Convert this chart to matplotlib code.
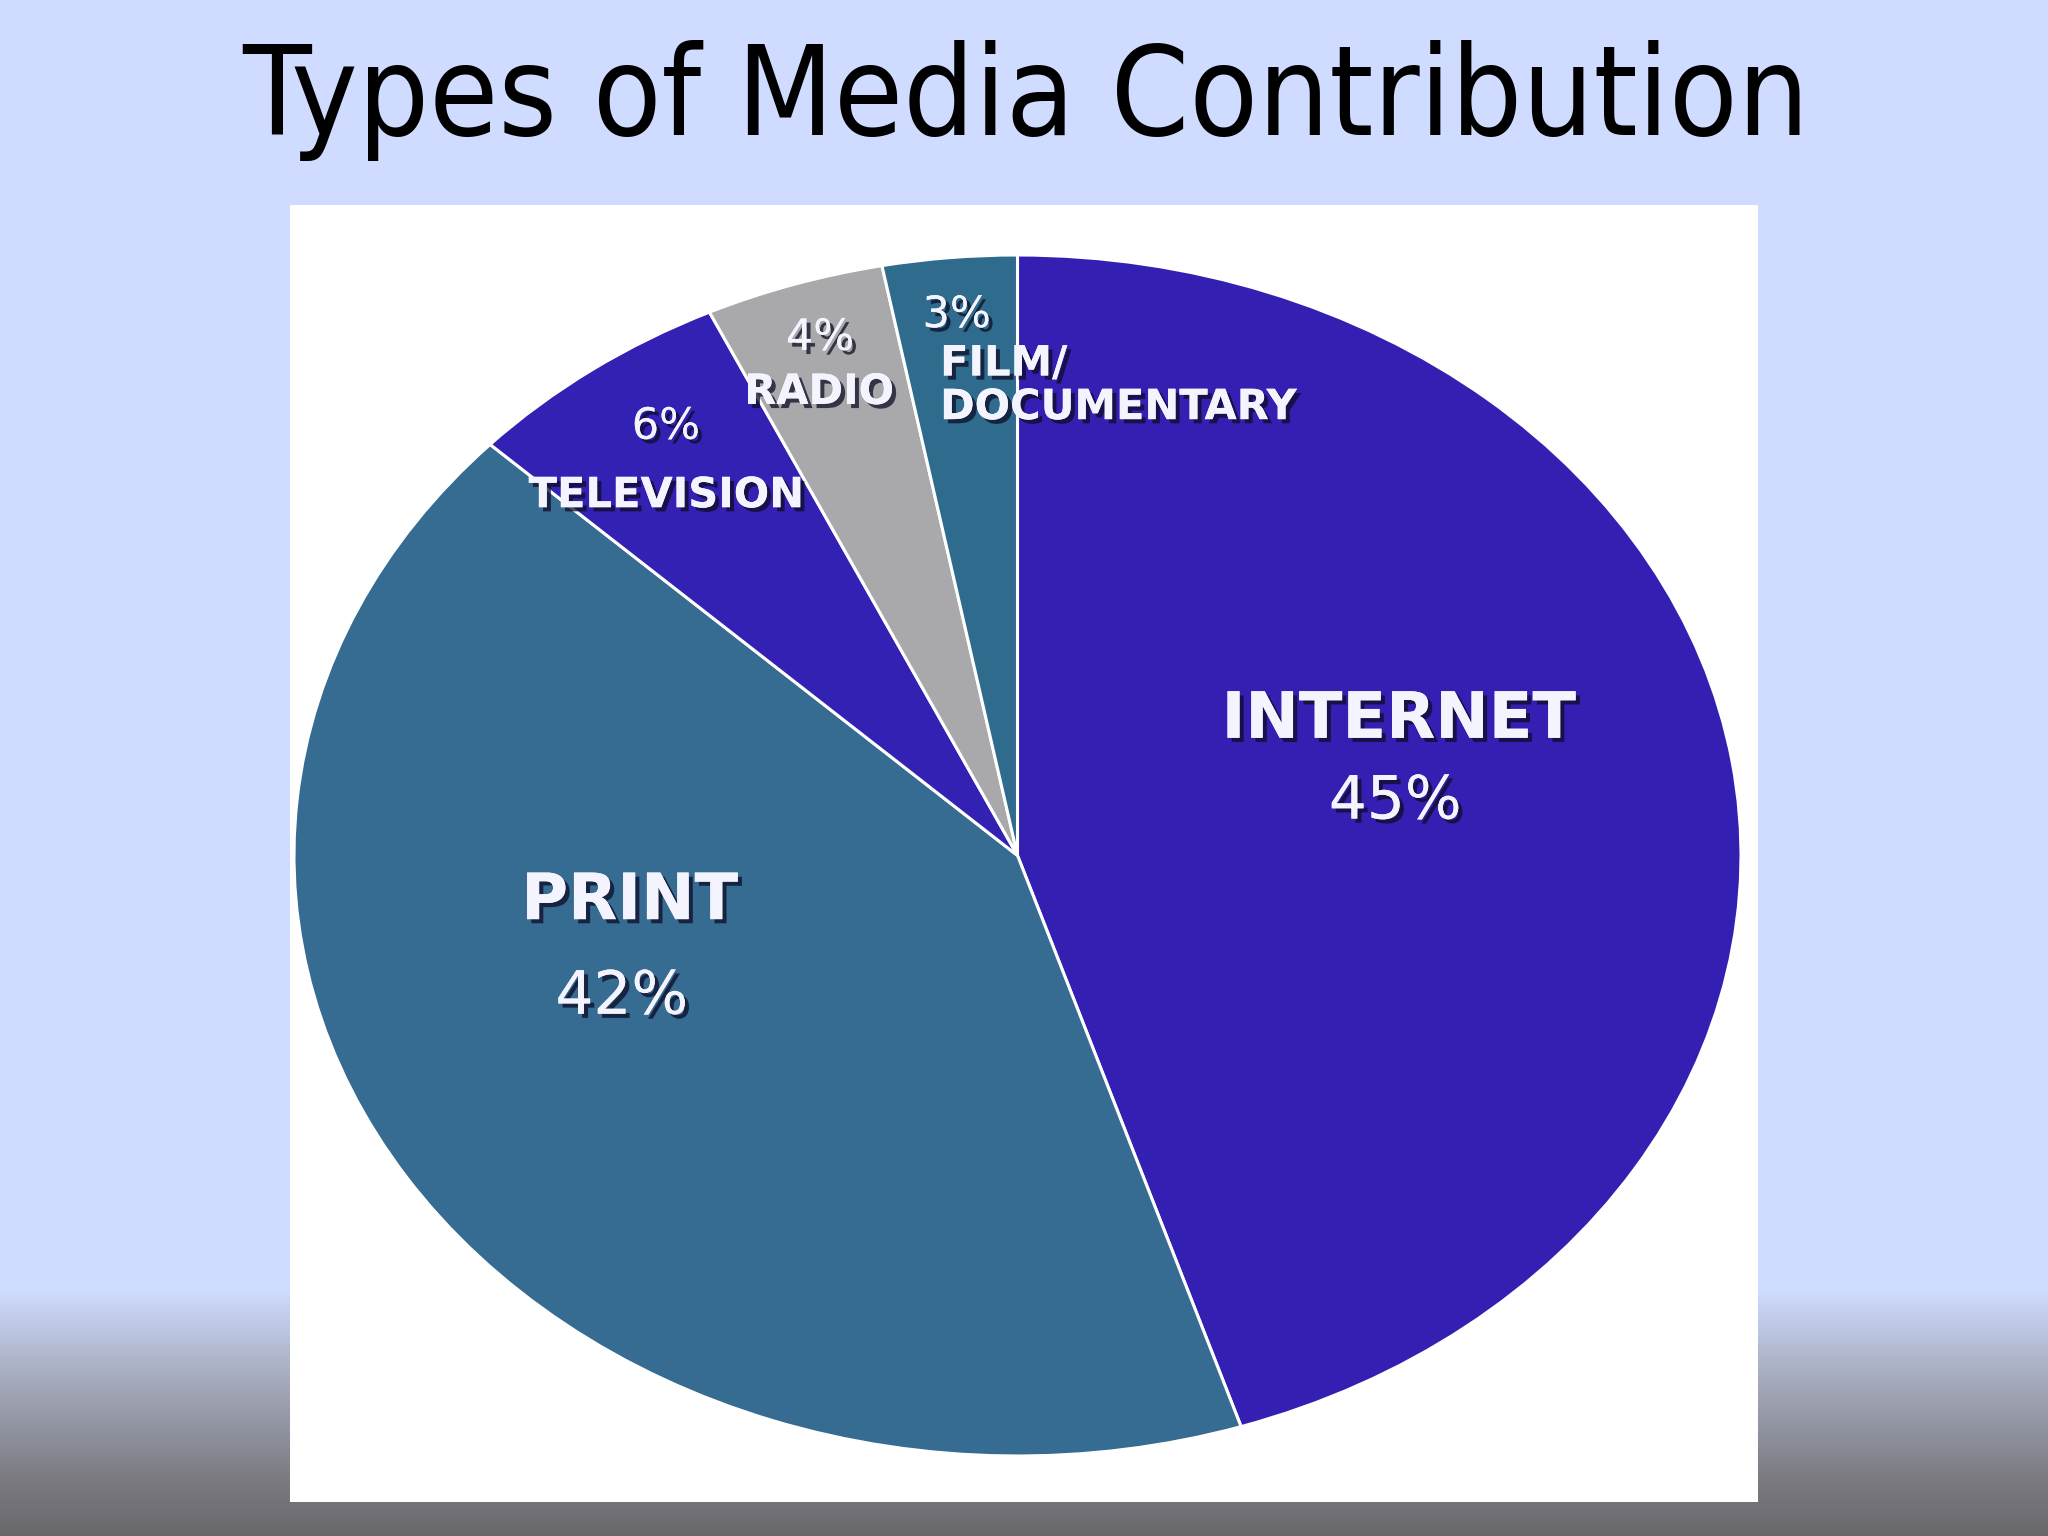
import numpy as np
import matplotlib
matplotlib.use("Agg")
import matplotlib.pyplot as plt
import matplotlib.patheffects as pe
from matplotlib.patches import Rectangle

# ---- data ----
categories = ["INTERNET", "PRINT", "TELEVISION", "RADIO", "FILM/\nDOCUMENTARY"]
values = [45, 42, 6, 4, 3]
colors = ["#3320B2", "#366B92", "#3321B3", "#A9A9AB", "#2E6B8C"]
title = "Types of Media Contribution"

W, H = 2048, 1536
fig = plt.figure(figsize=(W / 100, H / 100), dpi=100)

# ---- slide background (light blue with grey gradient at bottom) ----
bg = fig.add_axes([0, 0, 1, 1], zorder=-10)
rows = np.arange(H)
stops_y = [0, 1290, 1380, 1480, 1536]
stops_c = np.array([[207, 220, 255], [207, 220, 255], [165, 170, 188], [122, 122, 128], [104, 104, 108]]) / 255
grad = np.stack([np.interp(rows, stops_y, stops_c[:, k]) for k in range(3)], axis=1)
img = np.repeat(grad[:, None, :], 4, axis=1)
bg.imshow(img, aspect="auto", extent=[0, 1, 0, 1], origin="upper")
bg.axis("off")

# white chart box
fig.patches.append(Rectangle((290 / W, 1 - 1502 / H), (1758 - 290) / W, (1502 - 205) / H,
                             transform=fig.transFigure, facecolor="white", edgecolor="none", zorder=-5))

# ---- title ----
t = fig.text(1026 / W, 1 - 135 / H, title, ha="center", va="baseline",
             family="DejaVu Sans", fontstretch="condensed", fontsize=100, color="black")
fig.canvas.draw()
w100 = t.get_window_extent().width
t.set_fontsize(min(90, 100 * 1600 / w100))

# ---- pie (stretched into an ellipse) ----
ax = fig.add_axes([294 / W, 1 - 1456 / H, (1741 - 294) / W, (1456 - 255) / H])
ax.pie(values, colors=colors, startangle=90, counterclock=False,
       wedgeprops=dict(edgecolor="white", linewidth=2.2))
ax.set_aspect("auto")
ax.set_xlim(-1, 1)
ax.set_ylim(-1, 1)
ax.axis("off")

shadow = [pe.withSimplePatchShadow(offset=(3, -3), shadow_rgbFace=(0.05, 0.05, 0.15), alpha=0.75),
          pe.Normal()]
tc = "#F4F4FF"

def lab(x, y, s, size, bold, ha="center"):
    ax.text(x, y, s, ha=ha, va="center", fontsize=size, color=tc,
            fontweight="bold" if bold else "normal", family="DejaVu Sans",
            path_effects=shadow, linespacing=1.05)

# big labels
lab(0.527, 0.226, categories[0], 46, True)
lab(0.522, 0.089, f"{values[0]}%", 43, False)
lab(-0.536, -0.076, categories[1], 46, True)
lab(-0.547, -0.236, f"{values[1]}%", 43, False)
# small labels
lab(-0.486, 0.714, f"{values[2]}%", 31, False)
lab(-0.485, 0.600, categories[2], 30, True)
lab(-0.273, 0.862, f"{values[3]}%", 31, False)
lab(-0.274, 0.772, categories[3], 30, True)
lab(-0.084, 0.900, f"{values[4]}%", 31, False)
lab(-0.107, 0.783, categories[4], 30, True, ha="left")

fig.savefig("out.png", dpi=100)
